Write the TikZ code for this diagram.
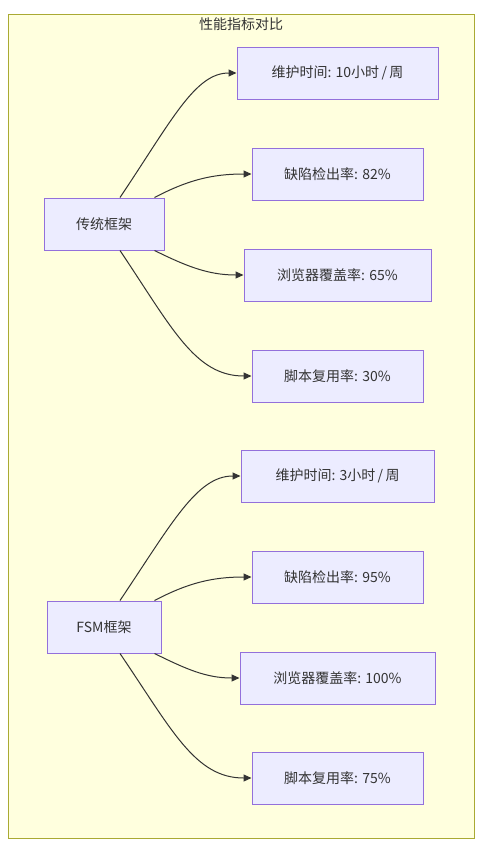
\documentclass[tikz,border=0pt]{standalone}
\usepackage{fontspec}
\setmainfont{Noto Sans CJK SC}
\usetikzlibrary{arrows.meta}
\definecolor{boxfill}{HTML}{ECECFF}
\definecolor{boxline}{HTML}{9370DB}
\definecolor{clfill}{HTML}{FFFFDE}
\definecolor{clline}{HTML}{AAAA33}
\definecolor{txt}{HTML}{333333}
\begin{document}
\begin{tikzpicture}[x=1pt,y=-1pt,
  nbox/.style={draw=boxline,fill=boxfill,line width=1pt,rectangle,inner sep=0pt,
    text=txt,font=\fontsize{14}{16}\selectfont},
  conn/.style={draw=txt,line width=1pt,-{Triangle[length=8pt,width=7pt]}}]
\useasboundingbox (0,0) rectangle (482,852);
\node[draw=clline,fill=clfill,line width=1pt,minimum width=466pt,minimum height=824pt,inner sep=0pt] (cluster) at (241,426) {};
\node[text=txt,font=\fontsize{14}{16}\selectfont] (title) at (241,24) {性能指标对比};
\node[nbox,minimum width=120pt,minimum height=52pt] (a) at (104,224) {传统框架};
\node[nbox,minimum width=201pt,minimum height=52pt] (a1) at (337.5,73) {维护时间: 10小时\,/\,周};
\node[nbox,minimum width=171pt,minimum height=52pt] (a2) at (337.5,174) {缺陷检出率: 82\%};
\node[nbox,minimum width=187pt,minimum height=52pt] (a3) at (337.5,275) {浏览器覆盖率: 65\%};
\node[nbox,minimum width=171pt,minimum height=52pt] (a4) at (337.5,376) {脚本复用率: 30\%};
\node[nbox,minimum width=114pt,minimum height=52pt] (b) at (104,627) {FSM框架};
\node[nbox,minimum width=193pt,minimum height=52pt] (b1) at (337.5,476) {维护时间: 3小时\,/\,周};
\node[nbox,minimum width=171pt,minimum height=52pt] (b2) at (337.5,577) {缺陷检出率: 95\%};
\node[nbox,minimum width=195pt,minimum height=52pt] (b3) at (337.5,678) {浏览器覆盖率: 100\%};
\node[nbox,minimum width=171pt,minimum height=52pt] (b4) at (337.5,778) {脚本复用率: 75\%};
\draw[conn] ([xshift=16pt]a.north) .. controls (172,120) and (195,73) .. (a1.west);
\draw[conn] ([xshift=-10pt]a.north east) .. controls (188,180) and (212,174) .. (a2.west);
\draw[conn] ([xshift=-10pt]a.south east) .. controls (186,266) and (208,275) .. (a3.west);
\draw[conn] ([xshift=16pt]a.south) .. controls (172,328) and (195,376) .. (a4.west);
\draw[conn] ([xshift=16pt]b.north) .. controls (172,523) and (197,476) .. (b1.west);
\draw[conn] ([xshift=-7pt]b.north east) .. controls (188,583) and (212,577) .. (b2.west);
\draw[conn] ([xshift=-7pt]b.south east) .. controls (186,669) and (206,678) .. (b3.west);
\draw[conn] ([xshift=16pt]b.south) .. controls (172,730) and (195,778) .. (b4.west);
\end{tikzpicture}
\end{document}
